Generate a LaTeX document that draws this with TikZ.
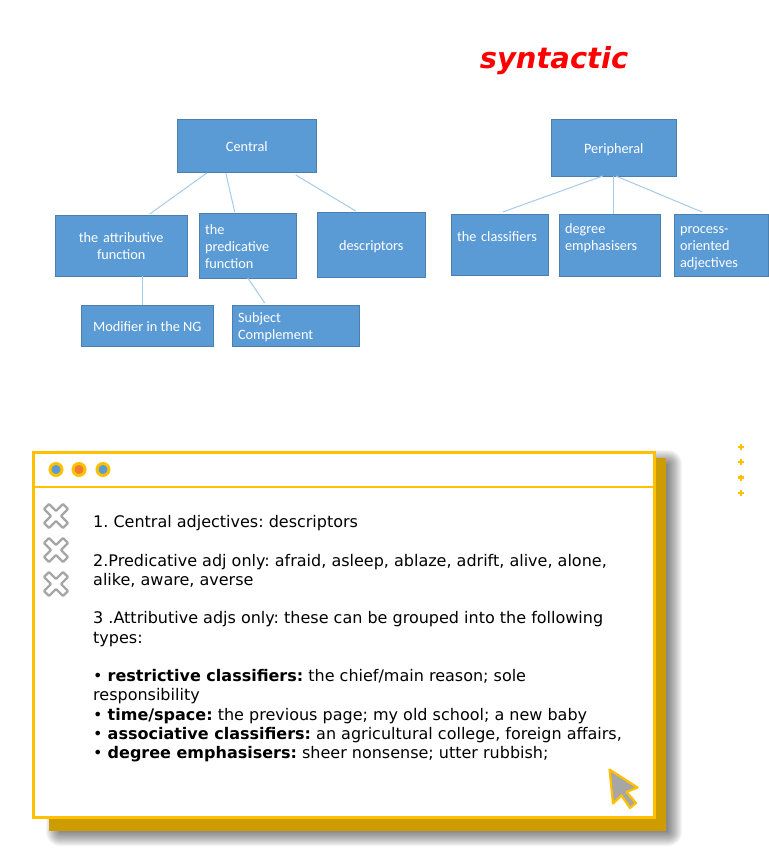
\documentclass[tikz,border=0pt]{standalone}
\usepackage{xcolor}
\usepackage{fontspec}
\setmainfont{DejaVu Sans}
\newfontfamily\boxfont{Carlito}
\usepackage{tikz}
\usetikzlibrary{calc}
\definecolor{blockblue}{HTML}{5B9BD5}
\definecolor{blockedge}{HTML}{4A7FAE}
\definecolor{linkblue}{HTML}{A5CAEA}
\definecolor{winyellow}{HTML}{FFC000}
\definecolor{wingold}{HTML}{CC9C00}
\definecolor{wingray}{HTML}{A6A6A6}
\definecolor{winorange}{HTML}{ED7D31}
\newcommand{\blockstrut}{\rule[-2.6pt]{0pt}{17pt}}
\tikzset{
  blockbox/.style={draw=blockedge, fill=blockblue, text=white, line width=0.8pt, outer sep=0pt,
    inner xsep=6pt, anchor=north west, font=\boxfont\fontsize{14.3}{17}\selectfont, align=center,
    execute at begin node=\blockstrut, execute at end node=\blockstrut},
  leftbox/.style={blockbox, align=left, text width=#1},
  link/.style={linkblue, line width=1pt},
  windot/.style={circle, draw=winyellow, line width=3pt, minimum size=12pt, inner sep=0pt}
}

\begin{document}
\begin{tikzpicture}[x=1pt,y=-1pt]
\useasboundingbox (0,0) rectangle (768,866);

% Title
\node[red, font=\bfseries\itshape\fontsize{29}{34}\selectfont] (title) at (554,61) {syntactic};

% Central tree
\node[blockbox, minimum width=139.5pt, minimum height=53pt] (central) at (177,119) {Central};
\node[blockbox, text width=120.5pt, minimum height=61pt] (attributive) at (55,215) {the attributive\\function};
\node[leftbox=85.5pt, minimum height=65pt] (predicative) at (199,213) {the\\predicative\\function};
\node[blockbox, minimum width=108.5pt, minimum height=65pt] (descriptors) at (317,212) {descriptors};
\node[blockbox, minimum width=132.5pt, minimum height=41pt] (modifier) at (81,305) {Modifier in the NG};
\node[leftbox=115.5pt, minimum height=41pt] (complement) at (232,305) {Subject\\Complement};

\draw[link] ($(central.south)+(-40,1)$) -- ($(attributive.north)+(28.5,-1)$);
\draw[link] ($(central.south)+(-21,1)$) -- ($(predicative.north)+(-13,-1)$);
\draw[link] ($(central.south)+(49,3)$) -- ($(descriptors.north)+(-15.5,-1)$);
\draw[link] ($(attributive.south)+(21.5,0)$) -- ($(modifier.north)+(-4.5,0)$);
\draw[link] (predicative.south) -- ($(complement.north)+(-31,-2)$);

% Peripheral tree
\node[blockbox, minimum width=125.5pt, minimum height=57pt] (peripheral) at (551,119) {Peripheral};
\node[leftbox=85.5pt, minimum height=61pt] (classifiers) at (451,214) {the classifiers\\~};
\node[leftbox=89.5pt, minimum height=62pt] (emphasisers) at (559,214) {degree\\emphasisers\\~};
\node[leftbox=82pt, minimum height=62pt] (adjectives) at (674,214) {process-\\oriented\\adjectives};

\draw[link] ($(peripheral.south)+(-11,0)$) -- ($(classifiers.north)+(3,-2)$);
\draw[link] ($(peripheral.south)+(0,0)$) -- (peripheral.south |- emphasisers.north);
\draw[link] ($(peripheral.south)+(2,0)$) -- ($(adjectives.north)+(-19,-2)$);

% Window shadow
\foreach \i in {0,...,14} {
    \fill[black, opacity=0.04, rounded corners=\i pt] (60-\i,464-\i) rectangle (668+\i,832+\i);
}
\fill[wingold] (49,458) rectangle (666,831);

% Window
\draw[winyellow, fill=white, line width=3pt] (33,452) rectangle (654,817);
\draw[winyellow, line width=2.5pt] (33,487) -- (654,487);
\node[windot, fill=blockblue] (dotone) at (56,469.5) {};
\node[windot, fill=winorange] (dottwo) at (79,469.5) {};
\node[windot, fill=blockblue] (dotthree) at (103,469.5) {};

% Crosses
\foreach \y in {516,550,584} {
    \draw[wingray, fill=white, line width=2.3pt, rounded corners=0.8pt, shift={(56,\y)}, rotate=45]
      (-3.5,-13.5) -- (3.5,-13.5) -- (3.5,-3.5) -- (13.5,-3.5) -- (13.5,3.5) -- (3.5,3.5) -- (3.5,13.5) -- (-3.5,13.5)
      -- (-3.5,3.5) -- (-13.5,3.5) -- (-13.5,-3.5) -- (-3.5,-3.5) -- cycle;
}

% Small marks
\foreach \y in {447,462,477.5,493} {
    \draw[winyellow, line width=2.2pt] (738,\y) -- (744,\y) (741,\y-3) -- (741,\y+3);
}

% Cursor
\draw[winyellow, fill=wingray, line width=2.2pt, line join=round]
  (609.5,769.5) -- (637.5,787.5) -- (626.5,792) -- (636,803) -- (630,808) -- (621.5,795.5) -- (613,803.5) -- cycle;

% Window text
\node[anchor=north west, inner sep=0pt, align=left, font=\frenchspacing\fontsize{16}{19.25}\selectfont] (bodytext) at (93,515.2) {%
1. Central adjectives: descriptors\\[19.25pt]
2.Predicative adj only: afraid, asleep, ablaze, adrift, alive, alone,\\
alike, aware, averse\\[19.25pt]
3 .Attributive adjs only: these can be grouped into the following\\
types:\\[19.25pt]
• \textbf{restrictive classifiers:} the chief/main reason; sole\\
responsibility\\
• \textbf{time/space:} the previous page; my old school; a new baby\\
• \textbf{associative classifiers:} an agricultural college, foreign affairs,\\
• \textbf{degree emphasisers:} sheer nonsense; utter rubbish;};
\end{tikzpicture}
\end{document}
